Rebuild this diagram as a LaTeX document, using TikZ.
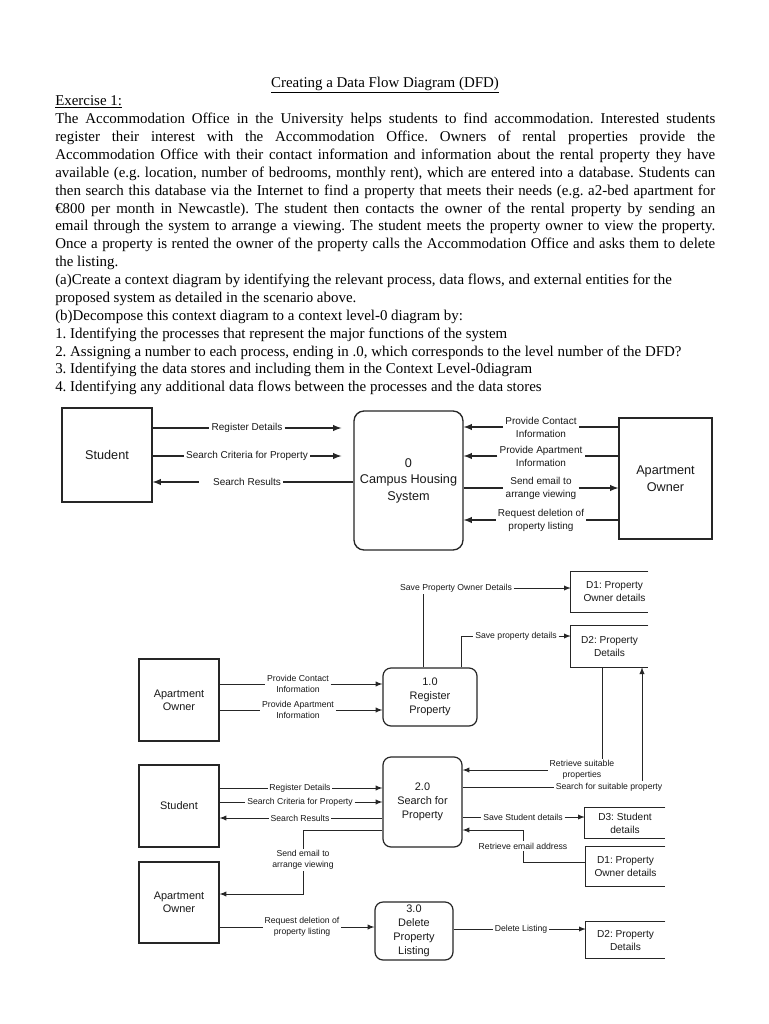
\documentclass[tikz,border=0pt]{standalone}
\usepackage{fontspec}
\setmainfont{Liberation Serif}
\setsansfont{Liberation Sans}
\usetikzlibrary{shapes,arrows,positioning}
\newdimen\pxu
\pxu=0.75pt
\setlength{\parindent}{0pt}
\frenchspacing

\begin{document}
\begin{tikzpicture}
	[
		x=0.75pt, y=-0.75pt,
		bodytext/.style={inner sep=0pt, font=\fontsize{11.2}{13.4}\selectfont},
		entitybox/.style={rectangle, draw=black!85, line width=1pt, align=center, text=black!90, font=\sffamily\fontsize{9.5}{12.4}\selectfont},
		bigprocess/.style={rectangle, rounded corners=7.5pt, draw=black!85, line width=1pt, align=center, text=black!90, font=\sffamily\fontsize{9.5}{12.4}\selectfont},
		smallentity/.style={rectangle, draw=black!85, line width=0.9pt, align=center, text=black!90, font=\sffamily\fontsize{8.2}{10}\selectfont},
		smallprocess/.style={rectangle, rounded corners=6pt, draw=black!85, line width=0.9pt, inner sep=0.5pt, align=center, text=black!90, font=\sffamily\fontsize{8.2}{10.4}\selectfont},
		storebox/.style={rectangle, inner sep=1pt, align=center, text=black!90, font=\sffamily\fontsize{7.6}{9.75}\selectfont},
		toplabel/.style={fill=white, inner sep=1.5pt, align=center, text=black!90, font=\sffamily\fontsize{7.5}{9.75}\selectfont},
		lowlabel/.style={fill=white, inner sep=1.2pt, align=center, text=black!90, font=\sffamily\fontsize{6.5}{8.25}\selectfont},
		topflow/.style={draw=black!85, line width=1.1pt},
		lowflow/.style={draw=black!85, line width=0.75pt},
	]

	\path[use as bounding box, fill=white] (0,0) rectangle (768,1024);

	\node [bodytext, anchor=base] (title) at (385,87.5) {\underline{Creating a Data Flow Diagram (DFD)}};
	\node [bodytext, anchor=base west] (exercise) at (55,105.5) {\underline{Exercise 1:}};
	\node [bodytext, anchor=north west, align=left] (scenario) at (55,113) {%
		\makebox[495pt][s]{The Accommodation Office in the University helps students to find accommodation. Interested students}\\
		\makebox[495pt][s]{register their interest with the Accommodation Office. Owners of rental properties provide the}\\
		\makebox[495pt][s]{Accommodation Office with their contact information and information about the rental property they have}\\
		\makebox[495pt][s]{available (e.g. location, number of bedrooms, monthly rent), which are entered into a database. Students can}\\
		\makebox[495pt][s]{then search this database via the Internet to find a property that meets their needs (e.g. a2-bed apartment for}\\
		\makebox[495pt][s]{€800 per month in Newcastle). The student then contacts the owner of the rental property by sending an}\\
		\makebox[495pt][s]{email through the system to arrange a viewing. The student meets the property owner to view the property.}\\
		\makebox[495pt][s]{Once a property is rented the owner of the property calls the Accommodation Office and asks them to delete}\\
		the listing.\\
		(a)Create a context diagram by identifying the relevant process, data flows, and external entities for the\\
		proposed system as detailed in the scenario above.\\
		(b)Decompose this context diagram to a context level-0 diagram by:\\
		1. Identifying the processes that represent the major functions of the system\\
		2. Assigning a number to each process, ending in .0, which corresponds to the level number of the DFD?\\
		3. Identifying the data stores and including them in the Context Level-0diagram\\
		4. Identifying any additional data flows between the processes and the data stores};

	\node [entitybox, minimum width=90\pxu, minimum height=94\pxu] (student) at (107,455) {Student};
	\node [bigprocess, minimum width=109\pxu, minimum height=139\pxu] (system) at (408.5,480.5) {0\\Campus Housing\\System};
	\node [entitybox, minimum width=93\pxu, minimum height=121\pxu] (owner) at (665.5,478.5) {Apartment\\Owner};

	\node [toplabel] (regdetails) at (247,428) {Register Details};
	\node [toplabel] (searchcrit) at (247,456) {Search Criteria for Property};
	\node [toplabel] (searchres) at (247,482) {Search Results};
	\node [toplabel] (contact) at (541,427) {Provide Contact\\Information};
	\node [toplabel] (apartment) at (541,456) {Provide Apartment\\Information};
	\node [toplabel] (sendmail) at (541,488) {Send email to\\arrange viewing};
	\node [toplabel] (reqdel) at (541,520) {Request deletion of\\property listing};

	\draw[topflow, -latex, shorten >=12\pxu] (student.east |- regdetails) -- (regdetails) -- (system.west |- regdetails);
	\draw[topflow, -latex, shorten >=12\pxu] (student.east |- searchcrit) -- (searchcrit) -- (system.west |- searchcrit);
	\draw[topflow, -latex, shorten <=12\pxu] (system.west |- searchres) -- (searchres) -- (student.east |- searchres);
	\draw[topflow, -latex] (owner.west |- contact) -- (contact) -- (system.east |- contact);
	\draw[topflow, -latex] (owner.west |- apartment) -- (apartment) -- (system.east |- apartment);
	\draw[topflow, -latex] (system.east |- sendmail) -- (sendmail) -- (owner.west |- sendmail);
	\draw[topflow, -latex] (owner.west |- reqdel) -- (reqdel) -- (system.east |- reqdel);

	\node [storebox, minimum width=77\pxu, minimum height=40\pxu] (ownerstore) at (609.5,592) {\hspace*{10\pxu}D1: Property\\\hspace*{10\pxu}Owner details};
	\node [storebox, minimum width=77\pxu, minimum height=41\pxu] (propstore) at (609.5,646.5) {D2: Property\\Details};
	\node [smallprocess, minimum width=94\pxu, minimum height=58\pxu] (register) at (430,697) {1.0\\Register\\Property};
	\node [smallentity, minimum width=80\pxu, minimum height=82\pxu] (ownerone) at (179,700) {Apartment\\Owner};
	\node [smallentity, minimum width=80\pxu, minimum height=82\pxu] (studenttwo) at (179,806) {Student};
	\node [smallprocess, minimum width=79\pxu, minimum height=90\pxu] (search) at (422.5,802) {2.0\\Search for\\Property};
	\node [smallentity, minimum width=80\pxu, minimum height=81\pxu] (ownertwo) at (179,902.5) {Apartment\\Owner};
	\node [smallprocess, minimum width=78\pxu, minimum height=58\pxu] (delete) at (414,931) {3.0\\Delete\\Property\\Listing};
	\node [storebox, minimum width=80\pxu, minimum height=30\pxu] (studentstore) at (625,823) {D3: Student\\details};
	\node [storebox, minimum width=79\pxu, minimum height=39\pxu] (ownerstoretwo) at (625.5,866.5) {D1: Property\\Owner details};
	\node [storebox, minimum width=79\pxu, minimum height=36\pxu] (propstoretwo) at (625.5,940) {D2: Property\\Details};

	\foreach \store in {ownerstore, propstore, studentstore, ownerstoretwo, propstoretwo}
		\draw[lowflow, line width=0.9pt] (\store.north east) -- (\store.north west) -- (\store.south west) -- (\store.south east);

	\node [lowlabel] (saveowner) at (456,588) {Save Property Owner Details};
	\node [lowlabel] (saveprop) at (516,636) {Save property details};
	\node [lowlabel] (contacttwo) at (298,684) {Provide Contact\\Information};
	\node [lowlabel] (apartmenttwo) at (298,710) {Provide Apartment\\Information};
	\node [lowlabel] (regtwo) at (300,788) {Register Details};
	\node [lowlabel] (crittwo) at (300,802) {Search Criteria for Property};
	\node [lowlabel] (restwo) at (300,818) {Search Results};
	\node [lowlabel] (mailtwo) at (303,860) {Send email to\\arrange viewing};
	\node [lowlabel] (reqtwo) at (302,927) {Request deletion of\\property listing};
	\node [lowlabel] (dellist) at (521,929) {Delete Listing};
	\node [lowlabel] (searchsuit) at (609,787) {Search for suitable property};
	\node [lowlabel] (retrsuit) at (582,770) {Retrieve suitable\\properties};
	\node [lowlabel] (savestud) at (523,817) {Save Student details};
	\node [lowlabel] (retrmail) at (523,846) {Retrieve email address};

	\coordinate (saveownerbend) at (423,588);
	\coordinate (savepropbend) at (461,636);
	\coordinate (mailtop) at (303,830);
	\coordinate (mailbottom) at (303,894);
	\coordinate (retrmailtop) at (523,830);
	\coordinate (retrmailbottom) at (523,862);
	\coordinate (retrsuitbend) at (602,770);
	\coordinate (searchsuitbend) at (642,787);

	\draw[lowflow] (register.north -| saveownerbend) -- (saveownerbend |- saveowner.south);
	\draw[lowflow, -latex] (saveowner.east) -- (ownerstore.west |- saveowner.east);
	\draw[lowflow, -latex] (register.north -| savepropbend) -- (savepropbend) -- (saveprop) -- (propstore.west |- saveprop);
	\draw[lowflow, -latex] (ownerone.east |- contacttwo) -- (contacttwo) -- (register.west |- contacttwo);
	\draw[lowflow, -latex] (ownerone.east |- apartmenttwo) -- (apartmenttwo) -- (register.west |- apartmenttwo);
	\draw[lowflow, -latex] (studenttwo.east |- regtwo) -- (regtwo) -- (search.west |- regtwo);
	\draw[lowflow, -latex] (studenttwo.east |- crittwo) -- (crittwo) -- (search.west |- crittwo);
	\draw[lowflow, -latex] (search.west |- restwo) -- (restwo) -- (studenttwo.east |- restwo);
	\draw[lowflow, -latex] (search.west |- mailtop) -- (mailtop) -- (mailtwo) -- (mailbottom) -- (ownertwo.east |- mailbottom);
	\draw[lowflow, -latex] (ownertwo.east |- reqtwo) -- (reqtwo) -- (delete.west |- reqtwo);
	\draw[lowflow, -latex] (delete.east |- dellist) -- (dellist) -- (propstoretwo.west |- dellist);
	\draw[lowflow, -latex] (search.east |- savestud) -- (savestud) -- (studentstore.west |- savestud);
	\draw[lowflow, -latex] (ownerstoretwo.west |- retrmailbottom) -- (retrmailbottom) -- (retrmail) -- (retrmailtop) -- (search.east |- retrmailtop);
	\draw[lowflow] (propstore.south -| retrsuitbend) -- (retrsuitbend |- retrsuit.north);
	\draw[lowflow, -latex] (retrsuit.west) -- (search.east |- retrsuit.west);
	\draw[lowflow] (search.east |- searchsuit) -- (searchsuit.west);
	\draw[lowflow, -latex] (searchsuitbend |- searchsuit.north) -- (propstore.south -| searchsuitbend);

\end{tikzpicture}
\end{document}
